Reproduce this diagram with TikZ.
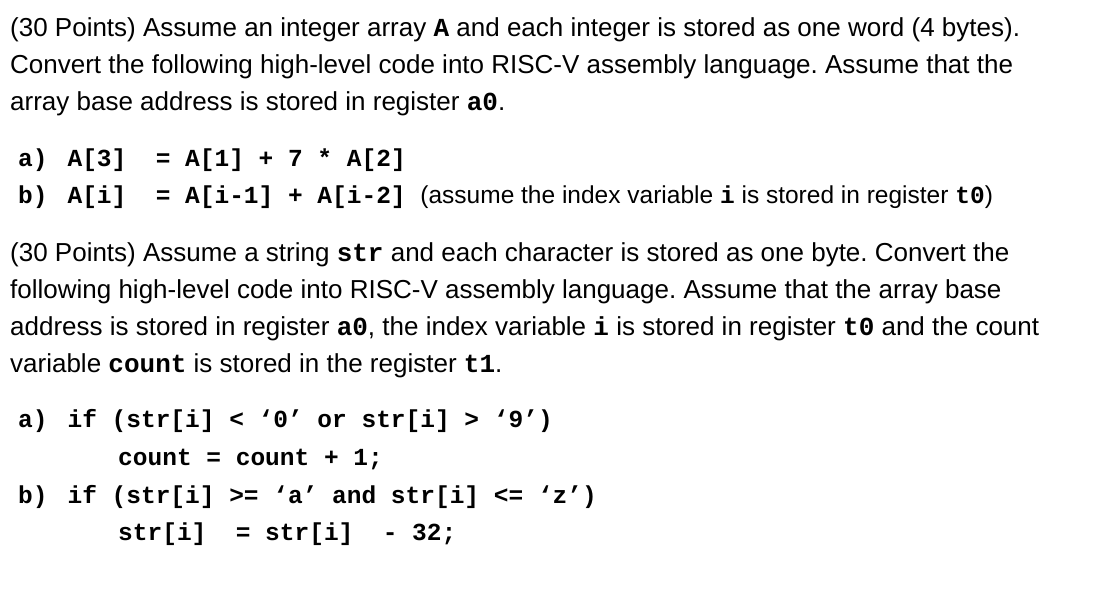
\documentclass[tikz,border=0pt]{standalone}
\usepackage{fontspec}
\setmainfont{Liberation Sans}
\setmonofont{Liberation Mono}
\frenchspacing
\newcommand{\cd}[1]{{\ttfamily\bfseries #1}}
\begin{document}
\begin{tikzpicture}[x=1pt,y=1pt,
  txt/.style={anchor=west,inner sep=0pt,font=\fontsize{26}{30}\selectfont},
  code/.style={anchor=west,inner sep=0pt,font=\fontsize{24.5}{30}\selectfont\ttfamily\bfseries}]
\useasboundingbox[fill=white] (0,0) rectangle (1102,596);
\node[txt] (p1) at (10,566) {(30 Points) Assume an integer array \cd{A} and each integer is stored as one word (4 bytes).};
\node[txt] (p2) at (10,529) {Convert the following high-level code into RISC-V assembly language. Assume that the};
\node[txt] (p3) at (10,492) {array base address is stored in register \cd{a0}.};
\node[code] (c1) at (18,436) {a)\hspace{20pt}A[3]\ \ = A[1] + 7 * A[2]};
\node[code] (c2) at (18,399) {b)\hspace{20pt}A[i]\ \ = A[i-1] + A[i-2]\ {\rmfamily\mdseries\fontsize{24.5}{30}\selectfont (assume the index variable \cd{i} is stored in register \cd{t0})}};
\node[txt] (q1) at (10,341) {(30 Points) Assume a string \cd{str} and each character is stored as one byte. Convert the};
\node[txt] (q2) at (10,304) {following high-level code into RISC-V assembly language. Assume that the array base};
\node[txt] (q3) at (10,267) {address is stored in register \cd{a0}, the index variable \cd{i} is stored in register \cd{t0} and the count};
\node[txt] (q4) at (10,230) {variable \cd{count} is stored in the register \cd{t1}.};
\node[code] (d1) at (18,175) {a)\hspace{20pt}if (str[i] < ‘0’ or str[i] > ‘9’)};
\node[code] (d2) at (118,136) {count = count + 1;};
\node[code] (d3) at (18,99) {b)\hspace{20pt}if (str[i] >= ‘a’ and str[i] <= ‘z’)};
\node[code] (d4) at (118,62) {str[i]\ \ = str[i]\ \ - 32;};
\end{tikzpicture}
\end{document}
